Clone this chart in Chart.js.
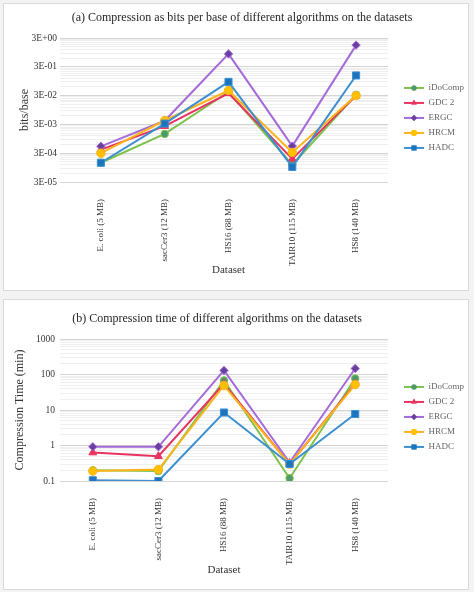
<!DOCTYPE html>
<html>
<head>
<meta charset="utf-8">
<script src="https://cdn.jsdelivr.net/npm/chart.js@4"></script>
<style>
  body { margin: 0; background: #f3f3f3; width: 474px; height: 592px; position: relative; }
  .box { position: absolute; left: 3px; width: 464px; background: #fff; border: 1px solid #d9d9d9; }
  .box canvas { display: block; }
  #boxA { top: 3px; height: 286px; }
  #boxB { top: 299px; height: 289px; }
</style>
</head>
<body>
<div class="box" id="boxA"><canvas id="chartA" width="464" height="286"></canvas></div>
<div class="box" id="boxB"><canvas id="chartB" width="464" height="289"></canvas></div>
<script>
const datasets = ["E. coli (5 MB)", "sacCer3 (12 MB)", "HS16 (88 MB)", "TAIR10 (115 MB)", "HS8 (140 MB)"];
const algorithms = ["iDoComp", "GDC 2", "ERGC", "HRCM", "HADC"];

// bits per base
const bpbIDoComp = [1.4e-4, 1.4e-3, 0.040, 1.2e-4, 0.032];
const bpbGDC2 = [4.0e-4, 2.6e-3, 0.036, 1.9e-4, 0.030];
const bpbERGC = [5.2e-4, 4.0e-3, 0.84, 5.3e-4, 1.7];
const bpbHRCM = [3.0e-4, 4.1e-3, 0.045, 3.2e-4, 0.030];
const bpbHADC = [1.4e-4, 3.2e-3, 0.090, 1.0e-4, 0.15];

// compression time (min)
const timeIDoComp = [0.20, 0.19, 68, 0.12, 77];
const timeGDC2 = [0.63, 0.50, 55, 0.30, 55];
const timeERGC = [0.92, 0.92, 130, 0.33, 148];
const timeHRCM = [0.19, 0.21, 49, 0.30, 52];
const timeHADC = [0.105, 0.10, 8.5, 0.30, 7.7];

// axis ticks
const bpbMajor = [3e-5, 3e-4, 3e-3, 3e-2, 3e-1, 3];
const timeMajor = [0.1, 1, 10, 100, 1000];
const minorSteps = [2, 3, 4, 5, 6, 7, 8, 9];

const styles = [
  { line: "#7DC24B", fill: "#4F9A6B", shape: "circle", r: 3.7 },
  { line: "#E8335E", fill: "#E8335E", shape: "triangle", r: 4.5 },
  { line: "#A56BD8", fill: "#6B3FA0", shape: "rectRot", r: 4.2 },
  { line: "#FFB31A", fill: "#FFC000", shape: "circle", r: 4.2 },
  { line: "#3C8FD1", fill: "#1C75BC", shape: "rect", r: 5 },
];

const serif = "'Liberation Serif', 'Times New Roman', serif";
const textColor = "#333333";

// line + marker icon for the legend (left part transparent to shift it right)
function legendIcon(st) {
  const c = document.createElement("canvas");
  c.width = 30; c.height = 10;
  const ctx = c.getContext("2d");
  ctx.strokeStyle = st.line; ctx.lineWidth = 2;
  ctx.beginPath(); ctx.moveTo(10, 5); ctx.lineTo(30, 5); ctx.stroke();
  ctx.fillStyle = st.fill;
  Chart.helpers.drawPoint(ctx, { pointStyle: st.shape, radius: st.r * 0.7, borderWidth: 0 }, 20, 5);
  ctx.fill();
  return c;
}

function buildTicks(major) {
  const out = [];
  major.forEach((m, i) => {
    out.push({ value: m, major: true });
    if (i < major.length - 1) minorSteps.forEach(k => out.push({ value: m * k, major: false }));
  });
  return out;
}

function expLabel(v) {
  const e = Math.round(Math.log10(v / 3));
  return "3E" + (e < 0 ? "-" : "+") + String(Math.abs(e)).padStart(2, "0");
}

// pins legend width and moves the title centre
const fixedLayout = {
  id: "fixedLayout",
  afterInit(chart, args, opts) {
    const fit = chart.legend.fit;
    chart.legend.fit = function () { fit.call(this); this.width = opts.legendWidth; };
  },
  afterLayout(chart, args, opts) {
    const t = chart.titleBlock;
    t.left = opts.titleCenter - 232;
    t.right = opts.titleCenter + 232;
  },
};

function makeChart(id, cfg) {
  const icons = styles.map(legendIcon);
  return new Chart(document.getElementById(id), {
    type: "line",
    data: {
      labels: datasets,
      datasets: cfg.series.map((d, i) => ({
        label: algorithms[i],
        data: d,
        borderColor: styles[i].line,
        backgroundColor: styles[i].fill,
        pointBackgroundColor: styles[i].fill,
        pointBorderColor: styles[i].line,
        pointBorderWidth: 1,
        pointStyle: styles[i].shape,
        pointRadius: styles[i].r,
        borderWidth: 2,
        order: cfg.series.length - i,
      })),
    },
    plugins: [fixedLayout],
    options: {
      responsive: false,
      animation: false,
      layout: { padding: 0 },
      plugins: {
        fixedLayout: { legendWidth: 80, titleCenter: cfg.titleCenter },
        title: {
          display: true, text: cfg.title, color: "#262626",
          font: { family: serif, size: 12, weight: "normal" },
          padding: { top: cfg.titleTop, bottom: cfg.titleBottom },
        },
        legend: {
          position: "right", align: "start",
          title: { display: true, text: "", font: { size: 12 }, padding: { top: cfg.legendTop } },
          labels: {
            color: textColor, font: { family: serif, size: 9 },
            usePointStyle: true, pointStyleWidth: 30, padding: 6,
            sort: (a, b) => a.datasetIndex - b.datasetIndex,
            generateLabels: chart => chart.data.datasets.map((ds, i) => ({
              text: ds.label, pointStyle: icons[i], datasetIndex: i,
              fillStyle: ds.backgroundColor, strokeStyle: ds.borderColor, lineWidth: 0,
            })),
          },
        },
        tooltip: { enabled: false },
      },
      scales: {
        x: {
          offset: true,
          afterFit: s => { s.height = cfg.xHeight; },
          grid: { display: false }, border: { display: false },
          ticks: { color: textColor, font: { family: serif, size: 9 }, minRotation: 90, maxRotation: 90, padding: 9 },
          title: { display: true, text: "Dataset", color: textColor, font: { family: serif, size: 11 }, padding: { bottom: cfg.xTitleBottom } },
        },
        y: {
          type: "logarithmic", min: cfg.major[0], max: cfg.major[cfg.major.length - 1],
          afterFit: s => { s.width = cfg.yWidth; },
          border: { display: false },
          afterBuildTicks: scale => { scale.ticks = buildTicks(cfg.major); },
          grid: {
            color: c => (c.tick && c.tick.major ? "#d4d4d4" : "#efefef"),
            lineWidth: 1, drawTicks: cfg.tickLen > 0, tickLength: cfg.tickLen,
          },
          ticks: {
            autoSkip: false, color: textColor, font: { family: serif, size: 9.5 }, padding: cfg.tickPad,
            callback: function (v, i, ticks) { return ticks[i].major ? cfg.fmt(v) : ""; },
          },
          title: { display: true, text: cfg.yTitle, color: textColor, font: { family: serif, size: 12 }, padding: { top: cfg.yTitleTop } },
        },
      },
    },
  });
}

makeChart("chartA", {
  title: "(a) Compression as bits per base of different algorithms on the datasets",
  yTitle: "bits/base",
  series: [bpbIDoComp, bpbGDC2, bpbERGC, bpbHRCM, bpbHADC],
  major: bpbMajor, fmt: expLabel,
  titleCenter: 238, titleTop: 6.8, titleBottom: 12.8, legendTop: 59,
  xHeight: 108, xTitleBottom: 13, yWidth: 65, tickLen: 9, tickPad: 3, yTitleTop: 13.8,
});
makeChart("chartB", {
  title: "(b) Compression time of different algorithms on the datasets",
  yTitle: "Compression Time (min)",
  series: [timeIDoComp, timeGDC2, timeERGC, timeHRCM, timeHADC],
  major: timeMajor, fmt: v => String(v),
  titleCenter: 213, titleTop: 11.8, titleBottom: 12.8, legendTop: 62,
  xHeight: 108, xTitleBottom: 12, yWidth: 56, tickLen: 0, tickPad: 5, yTitleTop: 8.8,
});
</script>
</body>
</html>
